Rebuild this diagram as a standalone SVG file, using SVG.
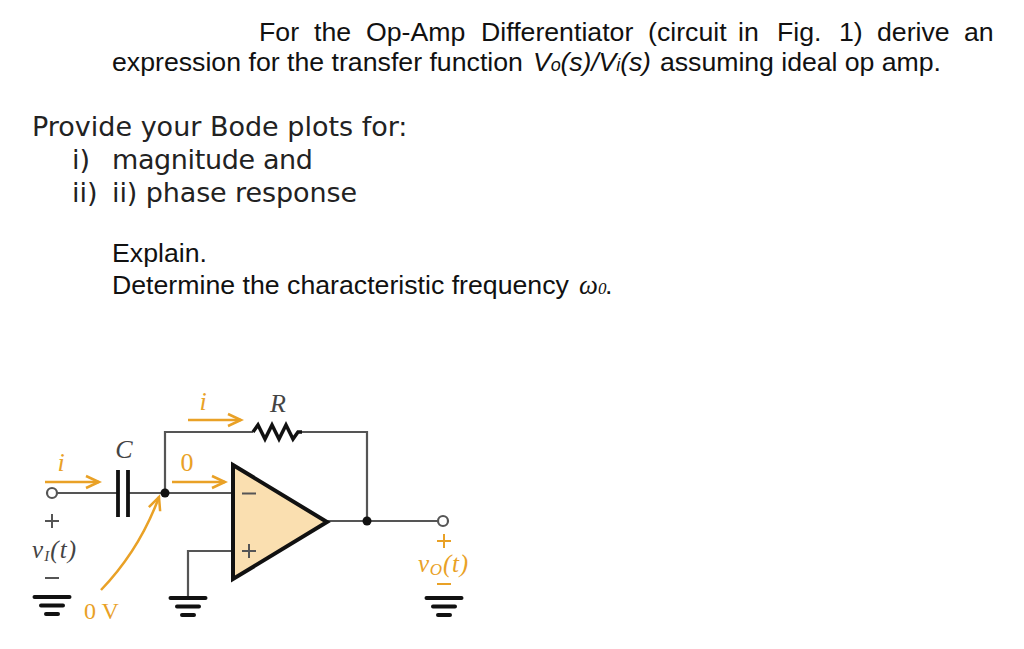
<svg xmlns="http://www.w3.org/2000/svg" width="1024" height="649" viewBox="0 0 1024 649">
<defs>
<g id="gnd"><path d="M-17.500 0H17.500M-11 8.500H11M-6 17H6" fill="none" stroke="#111" stroke-width="4" stroke-linecap="round"/></g>
<marker id="oa" markerUnits="userSpaceOnUse" markerWidth="18" markerHeight="16" refX="15" refY="8" orient="auto"><path d="M2 2L15 8L2 14" fill="none" stroke="#e9a126" stroke-width="2.500"/></marker>
</defs>
<style>
.s{font-family:"Liberation Sans",Arial,sans-serif;font-size:26.700px;fill:#111}
.d{font-family:"DejaVu Sans",sans-serif;font-size:27px;fill:#222}
.w{fill:none;stroke:#555;stroke-width:2.200}
.o{fill:none;stroke:#e9a126;stroke-width:2.500}
.m{font-family:"Liberation Serif",serif;font-style:italic;font-size:26px;fill:#444}
.ot{font-family:"Liberation Serif",serif;font-size:26px;fill:#e9a126}
.it{font-style:italic}
.sub{font-size:18px}
</style>
<rect width="1024" height="649" fill="#fff"/>
<g id="question">
<text class="s" x="259" y="41">For</text><text class="s" x="314" y="41">the</text><text class="s" x="366" y="41">Op-Amp</text><text class="s" x="481" y="41">Differentiator</text><text class="s" x="648" y="41">(circuit</text><text class="s" x="738" y="41">in</text><text class="s" x="777" y="41">Fig.</text><text class="s" x="839" y="41">1)</text><text class="s" x="877" y="41">derive</text><text class="s" x="964" y="41">an</text>
<text class="s" x="112" y="71">expression for the transfer function</text>
<text class="s it" x="533" y="71" textLength="118">V<tspan class="sub">o</tspan>(s)/V<tspan class="sub">i</tspan>(s)</text>
<text class="s" x="660" y="71" textLength="281">assuming ideal op amp.</text>
<text class="d" x="32" y="136">Provide your Bode plots for:</text>
<text class="d" x="72" y="169">i)</text><text class="d" x="112" y="169" textLength="201">magnitude and</text>
<text class="d" x="72" y="202">ii)</text><text class="d" x="112" y="202" textLength="245">ii) phase response</text>
<text class="s" x="112" y="262">Explain.</text>
<text class="s" x="112" y="294">Determine the characteristic frequency</text><text class="s it" x="579" y="294" style="font-family:'Liberation Serif',serif">ω</text><text class="s it" x="598" y="294" style="font-size:17px;font-family:'Liberation Serif',serif">0</text><text class="s" x="605" y="294">.</text>
</g>
<g id="connectors">
<path class="w" d="M57 493H118M128 493H233M165 493V432H253M302 432H367V521M327 521H438M188 597V551H233"/>
<path d="M253 432L258 425L265 439L272 425L279 439L286 425L293 439L298 432H302" fill="none" stroke="#111" stroke-width="3.500"/>
<path class="o" marker-end="url(#oa)" d="M45 482H99"/>
<path class="o" marker-end="url(#oa)" d="M188 420H241"/>
<path class="o" marker-end="url(#oa)" d="M172 482H225"/>
<path class="o" marker-end="url(#oa)" d="M101 590C125 565 145 535 159 497"/>
</g>
<g id="capacitor"><path d="M118 470V517M128 470V517" stroke="#111" stroke-width="3.800" fill="none"/><text class="m" x="124" y="458" text-anchor="middle">C</text></g>
<g id="resistor-label"><text class="m" x="278" y="412" text-anchor="middle">R</text></g>
<g id="opamp"><path d="M233 465L327 522L233 579Z" fill="#fadfb0" stroke="#111" stroke-width="4"/><path d="M242 493.500H256M242 551H256M249 544V558" stroke="#555" stroke-width="2"/></g>
<g id="input"><circle cx="52" cy="493" r="5" fill="#fff" stroke="#555" stroke-width="2.200"/><path d="M45 521H59M52 514V528M45 578H59" stroke="#555" stroke-width="2"/><text class="m" x="32" y="558" style="font-size:25px" textLength="44">v<tspan font-size="15" dy="3">I</tspan><tspan dy="-3">(t)</tspan></text><use href="#gnd" x="52" y="597"/></g>
<g id="node-a"><circle cx="165" cy="493" r="4.500" fill="#111"/></g>
<g id="node-b"><circle cx="367" cy="521" r="4.500" fill="#111"/></g>
<g id="ground-plus"><use href="#gnd" x="188" y="598"/></g>
<g id="output"><circle cx="443" cy="521" r="5" fill="#fff" stroke="#555" stroke-width="2.200"/><path d="M437 541H451M444 534V548M437 584H451" stroke="#e9a126" stroke-width="2"/><text class="ot it" x="418" y="572" style="font-size:25px" textLength="50">v<tspan font-size="17" dy="3">O</tspan><tspan dy="-3">(t)</tspan></text><use href="#gnd" x="444" y="598"/></g>
<g id="labels"><text class="ot it" x="61" y="471" text-anchor="middle">i</text><text class="ot it" x="203" y="410" text-anchor="middle">i</text><text class="ot" x="187" y="471" text-anchor="middle">0</text><text class="ot" x="84" y="619" style="font-size:24px">0 V</text></g>
</svg>
